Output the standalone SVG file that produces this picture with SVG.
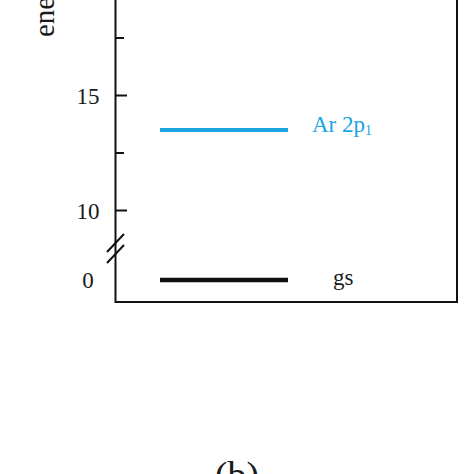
<svg xmlns="http://www.w3.org/2000/svg" width="474" height="474" viewBox="0 0 474 474">
<style>
.t{font-family:"Liberation Serif","Times New Roman",serif;font-size:23px;fill:#1a1a1a}
.ax{stroke:#111;stroke-width:2;fill:none}
.blue{fill:#1ca4e2}
</style>
<rect width="474" height="474" fill="#fff"/>
<g id="axes">
<polyline class="ax" points="115.5,0 115.5,302 457,302 457,0"/>
<line class="ax" x1="115.5" y1="38" x2="124" y2="38"/>
<line class="ax" x1="115.5" y1="95.5" x2="127" y2="95.5"/>
<line class="ax" x1="115.5" y1="153" x2="124" y2="153"/>
<line class="ax" x1="115.5" y1="210.5" x2="127" y2="210.5"/>
<line class="ax" x1="124" y1="234" x2="107" y2="252"/>
<line class="ax" x1="124" y1="245" x2="107" y2="263"/>
<text class="t" x="88" y="104" text-anchor="middle">15</text>
<text class="t" x="88" y="219" text-anchor="middle">10</text>
<text class="t" x="88" y="288" text-anchor="middle">0</text>
<text class="t" style="font-size:29px" transform="translate(54,37) rotate(-90)">ene</text>
</g>
<g id="level-ar2p1">
<line x1="160" y1="130" x2="288" y2="130" stroke="#1ca4e2" stroke-width="4"/>
<text class="t blue" x="312" y="132">Ar 2p<tspan font-size="14" dy="3">1</tspan></text>
</g>
<g id="level-gs">
<line x1="160" y1="280" x2="288" y2="280" stroke="#111" stroke-width="4.5"/>
<text class="t" x="333" y="285">gs</text>
</g>
<text class="t" style="font-size:38px" x="237" y="488" text-anchor="middle">(b)</text>
</svg>
